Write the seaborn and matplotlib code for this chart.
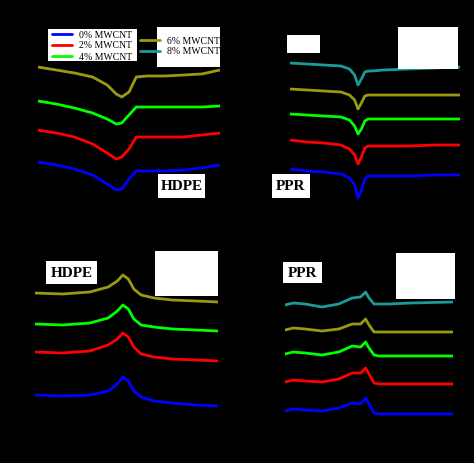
import matplotlib
matplotlib.use("Agg")
import matplotlib.pyplot as plt
import seaborn as sns
import pandas as pd

sns.set_theme(style="white")
plt.rcParams['font.family'] = ['Liberation Serif', 'DejaVu Serif']

labels = ["0% MWCNT", "2% MWCNT", "4% MWCNT", "6% MWCNT", "8% MWCNT"]
colors = ["#0000ff", "#ff0000", "#00ff00", "#9a9a10", "#1a9a9a"]

# Top-left: HDPE heating (read in pixel-like units, larger = lower)
hh_x = [0, 10, 20, 30, 38, 43, 46, 50, 54, 60, 70, 80, 90, 100]
hh = {
    "0% MWCNT": [163, 166, 170, 176, 185, 191, 190, 180, 172, 172, 172, 171, 169, 166],
    "2% MWCNT": [131, 134, 138, 145, 154, 160, 158, 150, 138, 138, 138, 138, 136, 134],
    "4% MWCNT": [102, 105, 109, 114, 120, 125, 124, 116, 108, 108, 108, 108, 108, 107],
    "6% MWCNT": [68, 71, 74, 78, 86, 95, 98, 93, 78, 77, 77, 76, 75, 71],
}
# Top-right: PPR heating
ph_x = [0, 10, 20, 30, 35, 38, 40, 42, 44, 46, 48, 55, 70, 85, 100]
ph = {
    "0% MWCNT": [170, 172, 173, 175, 179, 186, 199, 192, 180, 177, 177, 177, 177, 176, 176],
    "2% MWCNT": [141, 143, 144, 146, 150, 156, 165, 158, 149, 147, 147, 147, 147, 146, 146],
    "4% MWCNT": [115, 116, 117, 118, 121, 127, 135, 130, 122, 120, 120, 120, 120, 120, 120],
    "6% MWCNT": [90, 91, 92, 93, 96, 101, 110, 104, 97, 96, 96, 96, 96, 96, 96],
    "8% MWCNT": [64, 65, 66, 67, 70, 76, 86, 80, 73, 72, 72, 71, 70, 69, 68],
}
# Bottom-left: HDPE cooling
hc_x = [0, 15, 30, 40, 45, 48, 51, 54, 58, 65, 75, 88, 100]
hc = {
    "0% MWCNT": [396, 397, 396, 392, 385, 378, 382, 392, 398, 402, 404, 406, 407],
    "2% MWCNT": [353, 354, 352, 346, 340, 334, 338, 348, 355, 358, 360, 361, 362],
    "4% MWCNT": [325, 326, 324, 319, 312, 306, 310, 320, 326, 328, 330, 331, 332],
    "6% MWCNT": [294, 295, 293, 288, 282, 276, 280, 290, 296, 299, 301, 302, 303],
}
# Bottom-right: PPR cooling
pc_x = [0, 5, 12, 22, 32, 40, 45, 48, 50, 53, 56, 62, 75, 100]
pc = {
    "0% MWCNT": [412, 410, 411, 412, 409, 404, 405, 399, 405, 414, 415, 415, 415, 415],
    "2% MWCNT": [383, 381, 382, 383, 380, 374, 374, 369, 375, 384, 385, 385, 385, 385],
    "4% MWCNT": [355, 353, 354, 356, 353, 347, 348, 343, 349, 356, 357, 357, 357, 357],
    "6% MWCNT": [331, 329, 330, 332, 330, 325, 325, 320, 326, 333, 333, 333, 333, 333],
    "8% MWCNT": [306, 304, 305, 308, 305, 299, 298, 293, 299, 305, 305, 305, 304, 303],
}

W, H = 474, 464
fig = plt.figure(figsize=(W / 100, H / 100), dpi=100, facecolor="black")

def make_ax(x0, y0, x1, y1):
    ax = fig.add_axes([x0 / W, 1 - y1 / H, (x1 - x0) / W, (y1 - y0) / H])
    ax.set_facecolor("black")
    ax.axis("off")
    return ax

def draw(ax, xs, data, ylim):
    rows = []
    for lab, ys in data.items():
        for x, y in zip(xs, ys):
            rows.append({"x": x, "y": y, "s": lab})
    df = pd.DataFrame(rows)
    pal = {l: c for l, c in zip(labels, colors)}
    sns.lineplot(data=df, x="x", y="y", hue="s", palette=pal, ax=ax,
                 linewidth=2, legend=False, sort=False)
    ax.set_xlim(0, 100)
    ax.set_ylim(*ylim)
    ax.axis("off")

def box(x0, y0, x1, y1, text=None):
    fig.patches.append(plt.Rectangle((x0 / W, 1 - y1 / H), (x1 - x0) / W, (y1 - y0) / H,
                                     transform=fig.transFigure, facecolor="white",
                                     edgecolor="none", zorder=5))
    if text:
        fig.text((x0 + x1) / 2 / W, 1 - (y0 + y1) / 2 / H, text, ha="center", va="center",
                 fontsize=11, fontweight="bold", color="black", zorder=6)

ax1 = make_ax(38, 50, 220, 200); draw(ax1, hh_x, hh, (200, 50))
ax2 = make_ax(290, 50, 460, 205); draw(ax2, ph_x, ph, (205, 50))
ax3 = make_ax(35, 255, 218, 415); draw(ax3, hc_x, hc, (415, 255))
ax4 = make_ax(285, 280, 453, 420); draw(ax4, pc_x, pc, (420, 280))

# legend boxes
box(48, 30, 137, 62)
box(157, 28, 220, 68)
box(287, 36, 320, 54)
box(398, 28, 458, 70)
box(158, 175, 205, 199, "HDPE")
box(272, 175, 310, 199, "PPR")
box(46, 262, 97, 285, "HDPE")
box(283, 263, 322, 284, "PPR")
box(155, 252, 218, 297)
box(396, 254, 455, 300)

# legend entries
leg_items = [(0, 52, 35), (1, 52, 46), (2, 52, 57), (3, 140, 41), (4, 140, 52)]
for i, lx, ly in leg_items:
    lx0 = 52 if i < 3 else 140
    fig.lines.append(plt.Line2D([lx0 / W, (lx0 + 20) / W], [1 - ly / H, 1 - ly / H],
                                transform=fig.transFigure, color=colors[i], lw=2, zorder=7))
    fig.text((lx0 + 27) / W, 1 - ly / H, labels[i], fontsize=7, color="black",
             va="center", zorder=7)

fig.savefig("out.png", dpi=100, facecolor="black")
